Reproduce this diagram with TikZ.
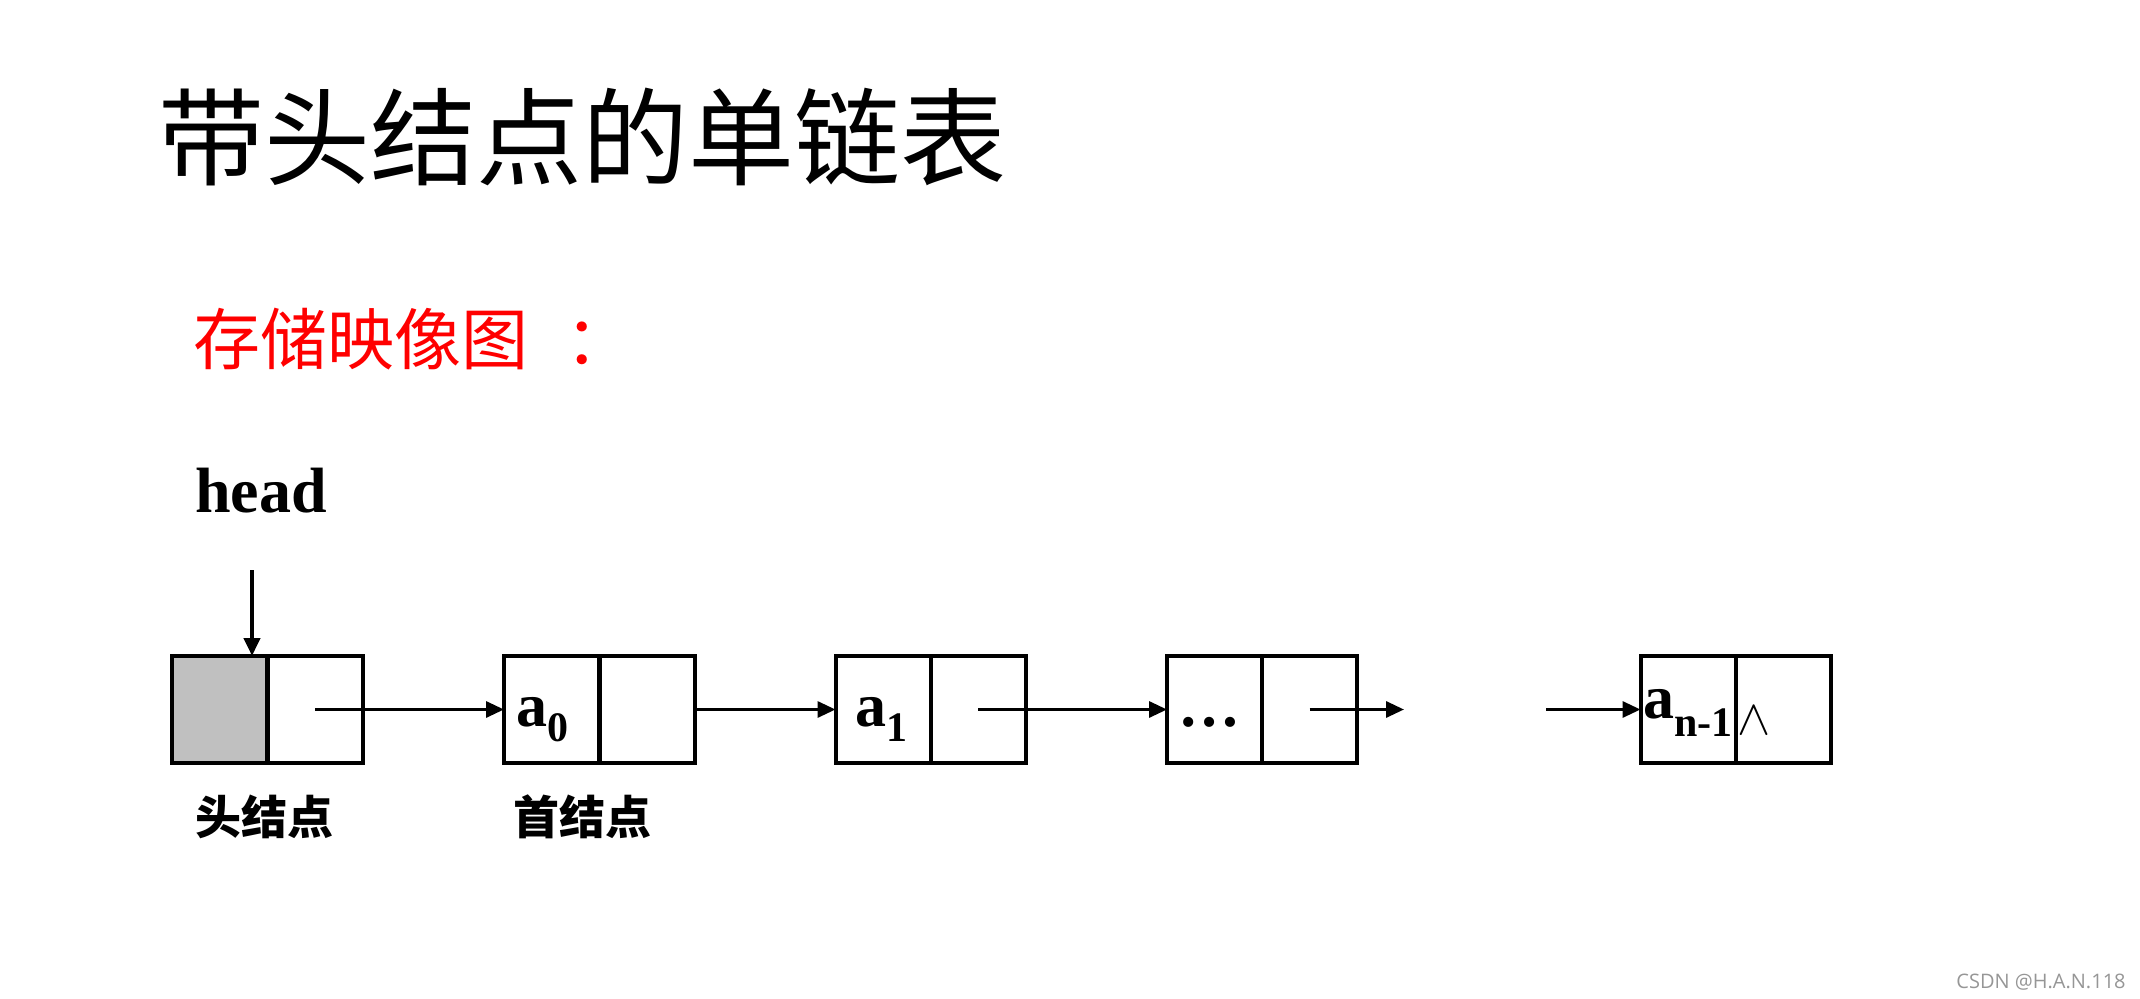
\documentclass[tikz,border=0pt]{standalone}
\usepackage{fontspec}
\setmainfont{Liberation Serif}
\newfontfamily\cjk{Noto Sans CJK SC}
\newfontfamily\wmfont{Open Sans}
\usetikzlibrary{arrows.meta}
\definecolor{cellgray}{RGB}{192,192,192}
\definecolor{wmgray}{RGB}{150,150,150}
\tikzset{
  cell/.style={draw, line width=2pt, minimum width=47.5pt, minimum height=53.5pt, inner sep=0pt, outer sep=0pt},
  link/.style={line width=1.6pt, -{Triangle[length=9pt,width=8pt]}},
  datatext/.style={font=\bfseries\fontsize{31}{31}\selectfont, inner sep=0pt, anchor=base west},
  captext/.style={font=\cjk\bfseries\fontsize{23}{23}\selectfont, inner sep=0pt, anchor=west}
}
\begin{document}
\begin{tikzpicture}[x=0.5pt,y=-0.5pt]
\useasboundingbox (0,0) rectangle (2140,999);
% titles
\node[anchor=west, inner sep=0pt, font=\cjk\fontsize{53}{53}\selectfont] (title) at (158,137) {带头结点的单链表};
\node[anchor=west, inner sep=0pt, text=red, font=\cjk\fontsize{33.5}{33.5}\selectfont] (sub) at (193,339) {存储映像图\kern0.55em：};
\node[anchor=base west, inner sep=0pt, font=\bfseries\fontsize{32}{32}\selectfont] (head) at (195,512) {head};
% cells
\node[cell, fill=cellgray] (hd) at (219.5,709.5) {};
\node[cell] (hp) at (315,709.5) {};
\node[cell] (d0) at (551.5,709.5) {};
\node[cell] (p0) at (647,709.5) {};
\node[cell] (d1) at (883,709.5) {};
\node[cell] (p1) at (978,709.5) {};
\node[cell] (dd) at (1214.5,709.5) {};
\node[cell] (pd) at (1309.5,709.5) {};
\node[cell] (dn) at (1688,709.5) {};
\node[cell] (pn) at (1783,709.5) {};
% data texts
\node[datatext] (t0) at (516,726) {a\raisebox{-0.25em}{\fontsize{21}{21}\selectfont 0}};
\node[datatext] (t1) at (855,726) {a\raisebox{-0.25em}{\fontsize{21}{21}\selectfont 1}};
\node[datatext] (td) at (1178,726) {…};
\node[datatext] (tn) at (1643,718) {a\raisebox{-0.3em}{\fontsize{21}{21}\selectfont n-1}};
\node[anchor=base west, inner sep=0pt, font=\fontsize{37}{37}\selectfont] (nil) at (1737,734) {$\wedge$};
% captions
\node[captext] (c1) at (195,817) {头结点};
\node[captext] (c2) at (513,817) {首结点};
% pointers
\coordinate (hs) at (252,570);
\draw[link, line width=2.2pt] (hs) -- (hs |- hd.north);
\draw[link] (hp.center) -- (d0.west);
\draw[link] (p0.east) -- (d1.west);
\draw[link] (p1.center) -- (dd.west);
\coordinate (gapA) at (1404,709.5);
\coordinate (gapB) at (1546,709.5);
\draw[link] (pd.center) -- (gapA);
\draw[link] (gapB) -- (dn.west);
% watermark
\node[anchor=base east, inner sep=0pt, text=wmgray, font=\wmfont\fontsize{10}{10}\selectfont] (wm) at (2126,988) {CSDN @H.A.N.118};
\end{tikzpicture}
\end{document}
